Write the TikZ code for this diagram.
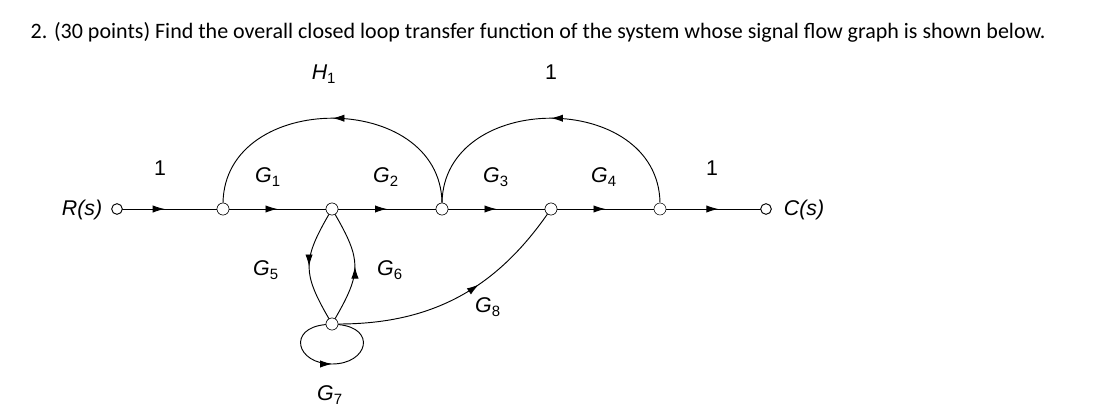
\documentclass[tikz,border=0pt]{standalone}
\usepackage{fontspec}
\setmainfont{Carlito}
\newfontfamily\lbl{Liberation Sans}
\usetikzlibrary{decorations.markings,arrows.meta}
\newcommand{\sbs}[1]{\textsubscript{\upshape #1}}
\begin{document}
\begin{tikzpicture}[x=0.75pt,y=-0.75pt,
  nd/.style={circle,draw,fill=white,inner sep=0pt,minimum size=9pt},
  br/.style={line width=0.7pt,postaction={decorate},decoration={markings,mark=at position #1 with {\arrow{Latex[length=9pt,width=5.5pt]}}}},
  br/.default=0.5,
  lb/.style={font=\lbl\fontsize{16}{18}\selectfont\itshape},
  lbu/.style={font=\lbl\fontsize{16}{18}\selectfont}]
\useasboundingbox (0,0) rectangle (1112,414);
\node[anchor=west,font=\fontsize{16.5}{18}\selectfont] (title) at (26,32) {2. (30 points) Find the overall closed loop transfer function of the system whose signal flow graph is shown below.};
\coordinate (R) at (117,209);
\coordinate (C) at (766,209);
\draw[br=0.45] (R) -- (223,209);
\draw[br] (223,209) -- (332,209);
\draw[br] (332,209) -- (442,209);
\draw[br] (442,209) -- (551,209);
\draw[br] (551,209) -- (660,209);
\draw[br=0.55] (660,209) -- (C);
\draw[line width=0.7pt,fill=white] (R) circle (4pt);
\draw[line width=0.7pt,fill=white] (C) circle (4pt);
\node[nd] (n1) at (223,209) {};
\node[nd] (n2) at (332,209) {};
\node[nd] (n3) at (442,209) {};
\node[nd] (n4) at (551,209) {};
\node[nd] (n5) at (660,209) {};
\node[nd] (m) at (332,324) {};
\draw[br] (n3.north) .. controls (440,90) and (225,90) .. (n1.north);
\draw[br] (n5.north) .. controls (658,90) and (444,90) .. (n3.north);
\draw[br] (n2) to[out=240,in=120,looseness=1.3] (m);
\draw[br] (m) to[out=60,in=300,looseness=1.3] (n2);
\draw[br] (m) .. controls +(-45,4) and +(-36,0) .. +(0,40) coordinate (bot) .. controls +(36,0) and +(45,4) .. (m);
\draw[br=0.6] (m) to[out=0,in=235] (n4);
\node[nd] at (n2) {};\node[nd] at (m) {};\node[nd] at (n4) {};\node[nd] at (n1) {};\node[nd] at (n3) {};
\node[lb] (lR) at (82,210) {R(s)};
\node[lb] (lC) at (804,210) {C(s)};
\node[lbu] (l1a) at (160,168) {1};
\node[lb] (lG1) at (268,177) {G\sbs{1}};
\node[lb] (lG2) at (386,177) {G\sbs{2}};
\node[lb] (lG3) at (496,177) {G\sbs{3}};
\node[lb] (lG4) at (604,177) {G\sbs{4}};
\node[lbu] (l1b) at (712,168) {1};
\node[lb] (lH1) at (324,74) {H\sbs{1}};
\node[lbu] (l1c) at (551,72) {1};
\node[lb] (lG5) at (266,270) {G\sbs{5}};
\node[lb] (lG6) at (390,270) {G\sbs{6}};
\node[lb] (lG8) at (488,307) {G\sbs{8}};
\node[lb] (lG7) at (330,395) {G\sbs{7}};
\end{tikzpicture}
\end{document}
